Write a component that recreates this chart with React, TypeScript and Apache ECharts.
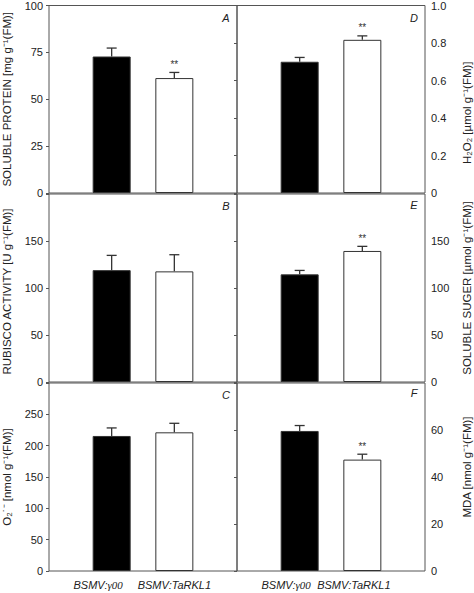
import React, { useEffect, useRef } from "react";
import * as echarts from "echarts";

const categories = ["BSMV:γ00", "BSMV:TaRKL1"];
const barColors = ["#000000", "#ffffff"];

const proteinMean = [72.8, 61.3];
const proteinErr = [4.5, 3.0];
const proteinSig = [0, 1];

const rubiscoMean = [119.0, 117.7];
const rubiscoErr = [15.7, 17.7];
const rubiscoSig = [0, 0];

const superoxideMean = [215.5, 221.3];
const superoxideErr = [12.8, 14.4];
const superoxideSig = [0, 0];

const h2o2Mean = [0.7, 0.817];
const h2o2Err = [0.023, 0.021];
const h2o2Sig = [0, 1];

const sugarMean = [114.5, 139.4];
const sugarErr = [4.2, 4.9];
const sugarSig = [0, 1];

const mdaMean = [59.6, 47.4];
const mdaErr = [2.3, 2.3];
const mdaSig = [0, 1];

const panelLetters = ["A", "B", "C", "D", "E", "F"];
const axisTitles = [
  "SOLUBLE PROTEIN [mg g⁻¹(FM)]",
  "RUBISCO ACTIVITY [U g⁻¹(FM)]",
  "O₂˙⁻ [nmol g⁻¹(FM)]",
  "H₂O₂ [µmol g⁻¹(FM)]",
  "SOLUBLE SUGER [µmol g⁻¹(FM)]",
  "MDA [nmol g⁻¹(FM)]",
];
const axisMin = [0, 0, 0, 0, 0, 0];
const axisMax = [100, 200, 300, 1.0, 200, 80];
const axisInterval = [25, 50, 50, 0.2, 50, 20];
const showMaxTick = [true, false, false, true, false, false];

const FONT = "'Liberation Sans', Arial, Helvetica, sans-serif";
const TEXT = "#222";
const LINE = "#555";

export default function App() {
  const ref = useRef<HTMLDivElement>(null);

  useEffect(() => {
    document.body.style.margin = "0";
    if (!ref.current) return;
    const chart = echarts.init(ref.current, undefined, { renderer: "svg" });

    const means = [proteinMean, rubiscoMean, superoxideMean, h2o2Mean, sugarMean, mdaMean];
    const errs = [proteinErr, rubiscoErr, superoxideErr, h2o2Err, sugarErr, mdaErr];
    const sigs = [proteinSig, rubiscoSig, superoxideSig, h2o2Sig, sugarSig, mdaSig];

    const lefts = [49, 49, 49, 237, 237, 237];
    const tops = [5, 194, 383, 5, 194, 383];
    const grids = lefts.map((l, i) => ({
      left: l,
      top: tops[i],
      width: 188,
      height: 188,
      show: true,
      borderColor: LINE,
      borderWidth: 1,
      backgroundColor: "transparent",
    }));

    const namePads = [
      [0, 0, 0, 0],
      [0, 7, 0, 0],
      [0, 0, 0, 0],
      [0, 27, 0, 0],
      [0, 0, 0, 0],
      [0, 0, 0, 20],
    ];

    const yAxes = means.map((_, i) => {
      const right = i >= 3;
      return {
        type: "value",
        gridIndex: i,
        position: right ? "right" : "left",
        min: axisMin[i],
        max: axisMax[i],
        interval: axisInterval[i],
        name: axisTitles[i],
        nameLocation: "middle",
        nameRotate: 90,
        nameGap: 36,
        nameTextStyle: {
          fontFamily: FONT,
          fontSize: 11.5,
          color: TEXT,
          padding: namePads[i],
        },
        axisLine: { show: false },
        axisTick: { show: true, inside: right, length: 3, lineStyle: { color: LINE } },
        splitLine: { show: false },
        axisLabel: {
          fontFamily: FONT,
          fontSize: 11,
          color: TEXT,
          margin: right ? 6 : 6,
          formatter: (v: number) => {
            if (Math.abs(v - axisMax[i]) < 1e-9 && !showMaxTick[i]) return "";
            if (i === 3) return v === 0 ? "0" : v.toFixed(1);
            return String(Math.round(v));
          },
        },
      };
    });

    const labelFor = (idx: number, pad: number) => {
      const name = categories[idx];
      const [pre, post] = name.split(":");
      const postStyle = /γ/.test(post) ? "b" : "a";
      let s = `{a|${pre}:}{${postStyle}|${post}}`;
      if (pad > 0) s += `{p${pad}|}`;
      return s;
    };

    const xAxes = means.map((_, i) => {
      const bottom = i === 2 || i === 5;
      const pads = i === 2 ? [27, 0] : [27, 17];
      return {
        type: "value",
        gridIndex: i,
        min: 0,
        max: 3,
        interval: 1,
        axisLine: { show: false },
        axisTick: { show: false },
        splitLine: { show: false },
        axisLabel: {
          show: bottom,
          margin: 8,
          formatter: (v: number) => {
            if (v === 1) return labelFor(0, pads[0]);
            if (v === 2) return labelFor(1, pads[1]);
            return "";
          },
          rich: {
            a: { fontFamily: FONT, fontStyle: "italic", fontSize: 11, color: TEXT },
            b: { fontFamily: "'Liberation Serif', 'Times New Roman', serif", fontStyle: "italic", fontSize: 11, color: TEXT },
            p27: { width: 27 },
            p17: { width: 17 },
          },
        },
      };
    });

    const series: any[] = [];
    means.forEach((m, i) => {
      series.push({
        type: "bar",
        xAxisIndex: i,
        yAxisIndex: i,
        barWidth: 38,
        data: m.map((v, j) => ({
          value: [j + 1, v],
          itemStyle: { color: barColors[j], borderColor: "#333", borderWidth: 1 },
        })),
        z: 2,
      });
      series.push({
        type: "custom",
        xAxisIndex: i,
        yAxisIndex: i,
        z: 3,
        data: m.map((v, j) => [j + 1, v, errs[i][j], sigs[i][j]]),
        renderItem: (params: any, api: any) => {
          const x = api.value(0);
          const y = api.value(1);
          const e = api.value(2);
          const s = api.value(3);
          const base = api.coord([x, y]);
          const top = api.coord([x, y + e]);
          const children: any[] = [
            {
              type: "line",
              shape: { x1: top[0], y1: base[1], x2: top[0], y2: top[1] },
              style: { stroke: "#333", lineWidth: 1.3 },
            },
            {
              type: "line",
              shape: { x1: top[0] - 5, y1: top[1], x2: top[0] + 5, y2: top[1] },
              style: { stroke: "#333", lineWidth: 1.3 },
            },
          ];
          if (s) {
            children.push({
              type: "text",
              x: top[0],
              y: top[1] - 8,
              style: {
                text: "**",
                fontFamily: FONT,
                fontSize: 10,
                fill: "#333",
                align: "center",
                verticalAlign: "middle",
              },
            });
          }
          return { type: "group", children };
        },
      });
    });

    const letterPos = [
      [226, 18],
      [226, 206],
      [226, 395],
      [414, 18],
      [414, 205],
      [414, 393],
    ];
    const graphics = panelLetters.map((t, i) => ({
      type: "text",
      x: letterPos[i][0],
      y: letterPos[i][1],
      style: {
        text: t,
        fontFamily: FONT,
        fontStyle: "italic",
        fontSize: 11,
        fill: TEXT,
        align: "center",
        verticalAlign: "middle",
      },
    }));

    chart.setOption({
      animation: false,
      backgroundColor: "#ffffff",
      grid: grids,
      xAxis: xAxes,
      yAxis: yAxes,
      series,
      graphic: graphics,
    });

    return () => chart.dispose();
  }, []);

  return <div ref={ref} style={{ width: 474, height: 593 }} />;
}
